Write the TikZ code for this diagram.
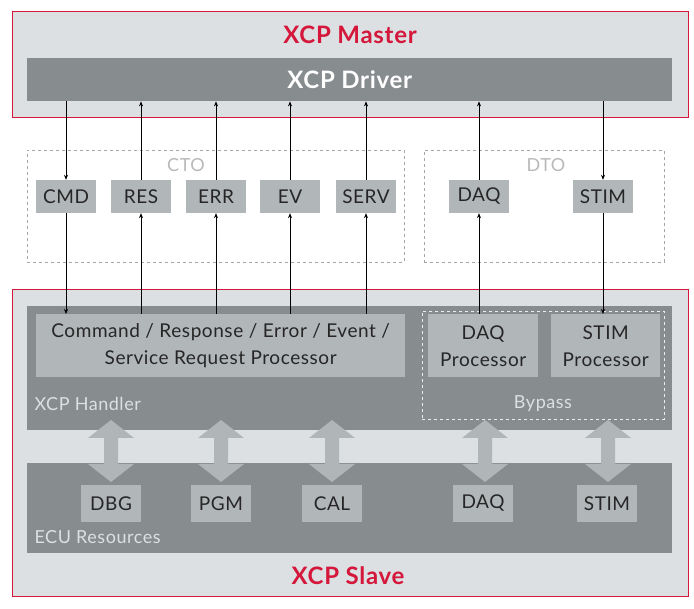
\documentclass[tikz,border=0pt]{standalone}
\usepackage{fontspec}
\setmainfont{Lato}[LetterSpace=3]
\usetikzlibrary{arrows.meta}
\begin{document}
\begin{tikzpicture}[x=1pt,y=-1pt,
  dark/.style={fill=dk, draw=none},
  sbox/.style={fill=bx, draw=none, inner sep=0pt, font=\fontsize{19}{27}\selectfont, text=black!85},
  lbl/.style={font=\fontsize{18}{20}\selectfont},
  ttl/.style={font=\bfseries\fontsize{24}{26}\selectfont},
  dbox/.style={draw=gray!70, dashed, line width=0.8pt},
  arr/.style={-{Stealth[length=5pt,width=4pt]}, line width=0.6pt}]
\definecolor{bgl}{HTML}{DCE0E3}
\definecolor{dk}{HTML}{878C8F}
\definecolor{bx}{HTML}{B1B6B9}
\definecolor{rd}{HTML}{D4173A}
\definecolor{ba}{HTML}{B0B5B8}
\useasboundingbox[fill=white] (0,0) rectangle (694,609);
% master
\node[draw=rd, line width=1.2pt, fill=bgl, minimum width=676pt, minimum height=106pt, anchor=north west] (master) at (12,11) {};
\node[text=rd, ttl] (mt) at (350,35) {XCP Master};
\node[dark, minimum width=645pt, minimum height=43pt, anchor=north west, text=white, ttl] (drv) at (27,58) {XCP Driver};
% CTO/DTO
\node[dbox, minimum width=377pt, minimum height=112pt, anchor=north west] (cto) at (27,150) {};
\node[text=gray!55, lbl] at (186,165) {CTO};
\node[dbox, minimum width=240pt, minimum height=112pt, anchor=north west] (dto) at (424,150) {};
\node[text=gray!55, lbl] at (546,165) {DTO};
\foreach \n/\t/\x in {cmd/CMD/66,res/RES/141,err/ERR/216,ev/EV/290,serv/SERV/366,daq/DAQ/479,stim/STIM/603}
  \node[sbox, minimum width=60pt, minimum height=33pt] (\n) at (\x,196.5) {\t};
% slave
\node[draw=rd, line width=1.2pt, fill=bgl, minimum width=676pt, minimum height=307pt, anchor=north west] (slave) at (12,289) {};
\node[dark, minimum width=645pt, minimum height=124pt, anchor=north west] (hdl) at (27,306) {};
\node[sbox, minimum width=369pt, minimum height=63pt, anchor=north west, align=center] (proc) at (36,314) {Command / Response / Error / Event /\\Service Request Processor};
\node[draw=white!85!gray, dashed, line width=0.8pt, minimum width=242pt, minimum height=108pt, anchor=north west] (byp) at (422,311) {};
\node[sbox, minimum width=110pt, minimum height=63pt, anchor=north west, align=center] (dproc) at (428,314) {DAQ\\Processor};
\node[sbox, minimum width=109pt, minimum height=63pt, anchor=north west, align=center] (sproc) at (551,314) {STIM\\Processor};
\node[text=bgl, lbl, anchor=west] (hl) at (31,404) {XCP Handler};
\node[text=bgl, lbl] (bl) at (543,404) {Bypass};
\node[dark, minimum width=645pt, minimum height=90pt, anchor=north west] (ecu) at (27,463) {};
\node[text=bgl, lbl, anchor=west] (el) at (31,537) {ECU Resources};
\foreach \n/\t/\x in {dbg/DBG/111,pgm/PGM/221,cal/CAL/332,rdaq/DAQ/483,rstim/STIM/607}
  \node[sbox, minimum width=60pt, minimum height=37pt] (\n) at (\x,503.5) {\t};
\node[text=rd, ttl] (st) at (348,576) {XCP Slave};
% big double arrows
\foreach \x in {111,221,332,485,608}
  \fill[ba] (\x,420) -- (\x+23,438) -- (\x+7,438) -- (\x+7,464) -- (\x+23,464) -- (\x,482) -- (\x-23,464) -- (\x-7,464) -- (\x-7,438) -- (\x-23,438) -- cycle;
% connectors
\draw[arr] (drv.south -| cmd) -- (cmd.north);
\draw[arr] (cmd.south) -- (proc.north -| cmd);
\foreach \n in {res,err,ev,serv}{
  \draw[arr] (proc.north -| \n) -- (\n.south);
  \draw[arr] (\n.north) -- (drv.south -| \n);
}
\draw[arr] (dproc.north -| daq) -- (daq.south);
\draw[arr] (daq.north) -- (drv.south -| daq);
\draw[arr] (drv.south -| stim) -- (stim.north);
\draw[arr] (stim.south) -- (sproc.north -| stim);
\end{tikzpicture}
\end{document}
